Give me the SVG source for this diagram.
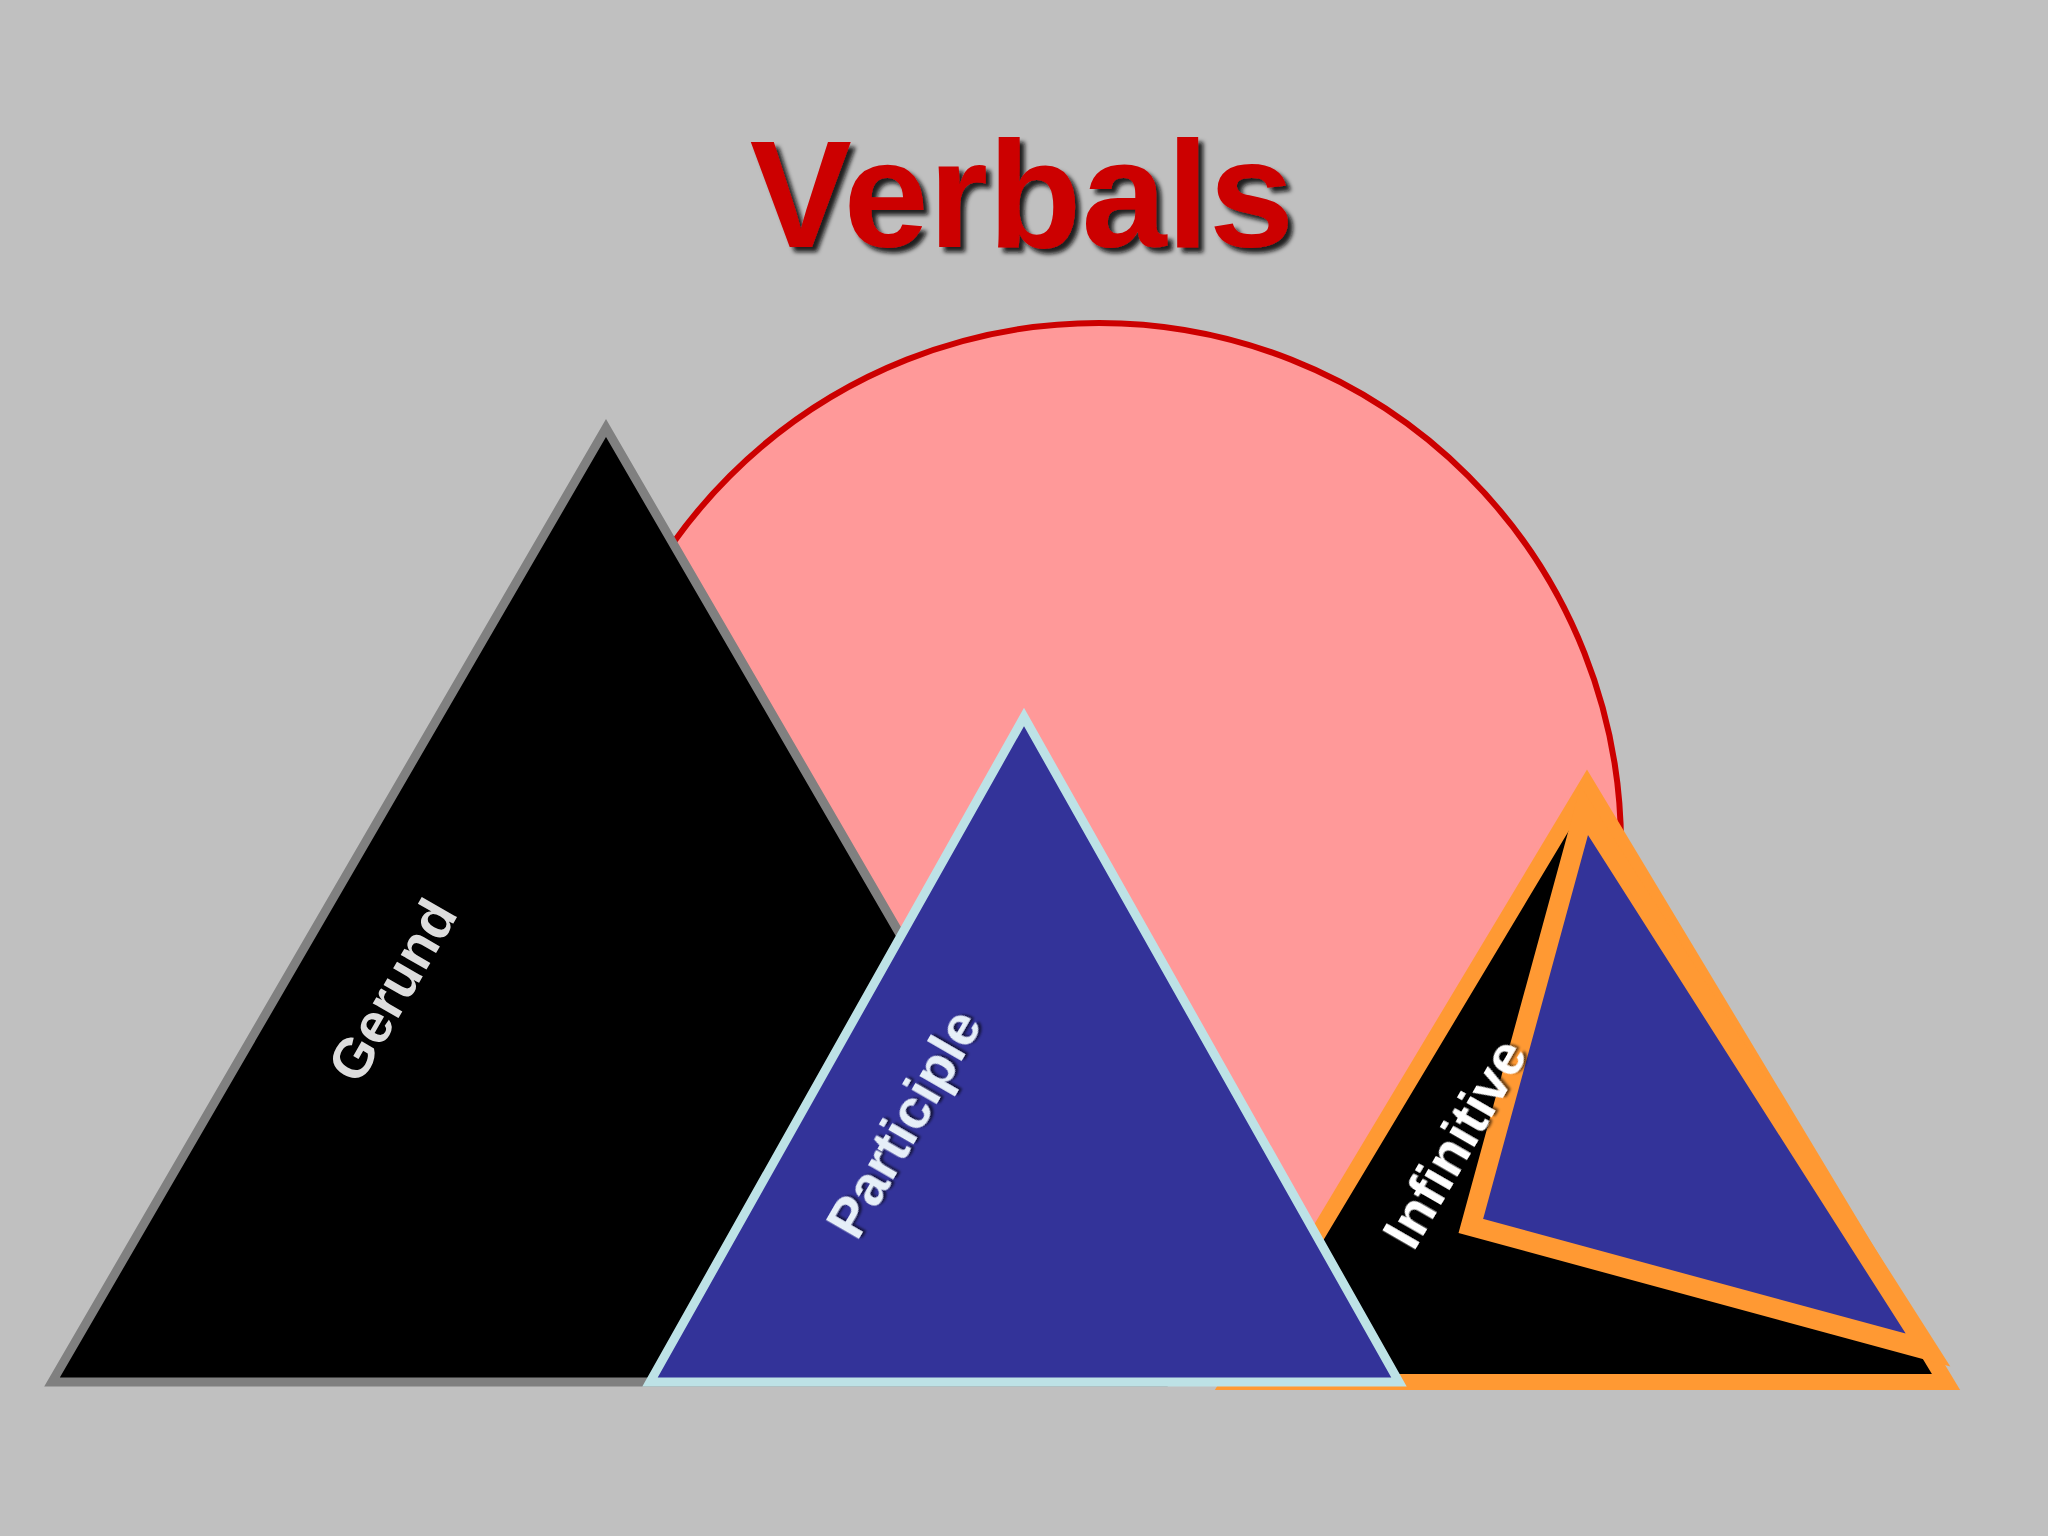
<svg xmlns="http://www.w3.org/2000/svg" width="2048" height="1536" viewBox="0 0 2048 1536">
  <defs>
    <filter id="titleShadow" x="-10%" y="-10%" width="120%" height="130%">
      <feDropShadow dx="5" dy="5" stdDeviation="2.2" flood-color="#111111" flood-opacity="0.9"/>
    </filter>
    <filter id="labelShadow" x="-10%" y="-20%" width="120%" height="140%">
      <feDropShadow dx="2.5" dy="2.5" stdDeviation="1.2" flood-color="#000000" flood-opacity="0.6"/>
    </filter>
  </defs>
  <style>
    .title { font-family: "Liberation Sans", Arial, sans-serif; font-weight: bold; font-size: 153px; fill: #CC0000; }
    .label { font-family: "Liberation Sans", Arial, sans-serif; font-weight: bold; font-size: 56px; text-anchor: middle; }
    .tri { stroke-linejoin: miter; stroke-miterlimit: 10; }
  </style>
  <rect x="0" y="0" width="2048" height="1536" fill="#C0C0C0"/>

  <g id="title">
    <text class="title" x="1022" y="247" text-anchor="middle" filter="url(#titleShadow)">Verbals</text>
  </g>

  <g id="verbals-circle">
    <circle cx="1099" cy="845" r="522" fill="#FF9999" stroke="#CC0000" stroke-width="6"/>
  </g>

  <g id="gerund">
    <polygon class="tri" points="606,428 52,1382 1160,1382" fill="#000000" stroke="#808080" stroke-width="9"/>
    <text class="label" transform="translate(409,1000) rotate(-60)" fill="#DDDDDD">Gerund</text>
  </g>

  <g id="infinitive">
    <polygon class="tri" points="1587,785 1229,1382 1946,1382" fill="#000000" stroke="#FF9933" stroke-width="16"/>
    <polygon class="tri" points="1584.3,810.7 1470.8,1226 1928,1350" fill="#333399" stroke="#FF9933" stroke-width="20"/>
    <text class="label" transform="translate(1471,1153) rotate(-60)" fill="#FFFFFF" filter="url(#labelShadow)">Infinitive</text>
  </g>

  <g id="participle">
    <polygon class="tri" points="1024,717 650,1382 1399,1382" fill="#333399" stroke="#BDE2E6" stroke-width="9"/>
    <text class="label" transform="translate(920,1133) rotate(-60)" fill="#E6EFF8" filter="url(#labelShadow)">Participle</text>
  </g>

  <g id="connectors"></g>
</svg>
